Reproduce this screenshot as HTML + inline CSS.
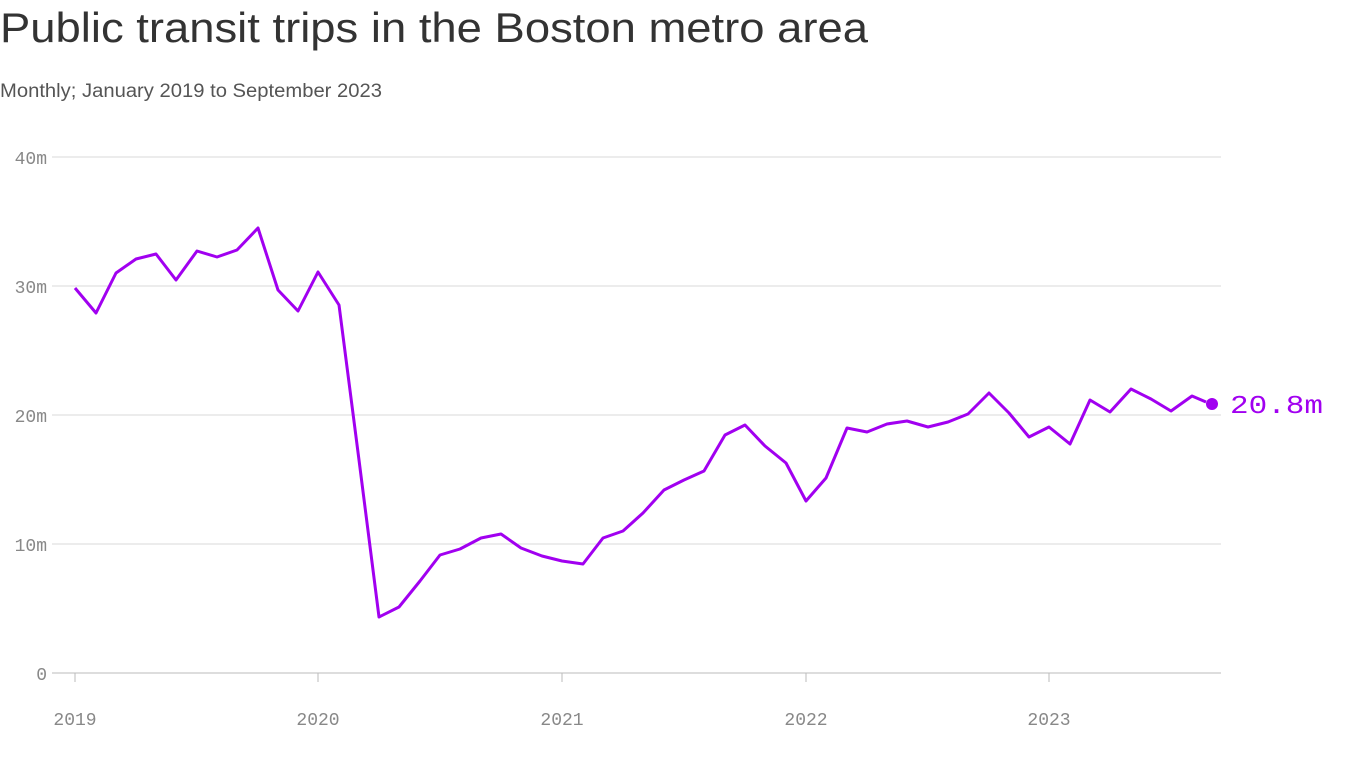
<!DOCTYPE html>
<html><head><meta charset="utf-8"><style>
body{margin:0;background:#fff;width:1366px;height:768px;overflow:hidden}
</style></head><body>
<svg width="1366" height="768" xmlns="http://www.w3.org/2000/svg">
<text x="0" y="42" font-family="Liberation Sans, sans-serif" font-size="42" fill="#333" textLength="868" lengthAdjust="spacingAndGlyphs">Public transit trips in the Boston metro area</text>
<text x="0" y="97" font-family="Liberation Sans, sans-serif" font-size="19" fill="#555" textLength="382" lengthAdjust="spacingAndGlyphs">Monthly; January 2019 to September 2023</text>
<g stroke="#d9d9d9" stroke-width="1">
<line x1="52" x2="1221" y1="157" y2="157"/>
<line x1="52" x2="1221" y1="286" y2="286"/>
<line x1="52" x2="1221" y1="415" y2="415"/>
<line x1="52" x2="1221" y1="544" y2="544"/>
<line x1="52" x2="1221" y1="673" y2="673" stroke="#bbb"/>
</g>
<g stroke="#bbb"><line x1="75" x2="75" y1="673" y2="682"/><line x1="318" x2="318" y1="673" y2="682"/><line x1="562" x2="562" y1="673" y2="682"/><line x1="806" x2="806" y1="673" y2="682"/><line x1="1049" x2="1049" y1="673" y2="682"/></g>
<g font-family="Liberation Mono, monospace" font-size="18" fill="#888" text-anchor="end">
<text x="47" y="164">40m</text><text x="47" y="293">30m</text><text x="47" y="422">20m</text><text x="47" y="551">10m</text><text x="47" y="680">0</text>
</g>
<g font-family="Liberation Mono, monospace" font-size="18" fill="#888" text-anchor="middle">
<text x="75" y="725">2019</text><text x="318" y="725">2020</text><text x="562" y="725">2021</text><text x="806" y="725">2022</text><text x="1049" y="725">2023</text>
</g>
<polyline fill="none" stroke="#a100f0" stroke-width="3" stroke-linejoin="round" points="75,288 96,313 116,273 136,259 156,254 176,280 197,251 217,257 237,250 258,228 278,290 298,311 318,272 339,305 359,460 379,617 399,607 420,581 440,555 460,549 481,538 501,534 521,548 542,556 562,561 583,564 603,538 623,531 643,513 664,490 684,480 704,471 725,435 745,425 765,446 786,463 806,501 826,478 847,428 867,432 887,424 907,421 928,427 948,422 968,414 989,393 1009,413 1029,437 1049,427 1070,444 1090,400 1110,412 1131,389 1151,399 1171,411 1192,396 1206,402"/>
<circle cx="1212" cy="404" r="6" fill="#a100f0"/>
<text x="1230" y="413" font-family="Liberation Mono, monospace" font-size="26" fill="#a100f0" textLength="93" lengthAdjust="spacingAndGlyphs">20.8m</text>
</svg>
</body></html>
